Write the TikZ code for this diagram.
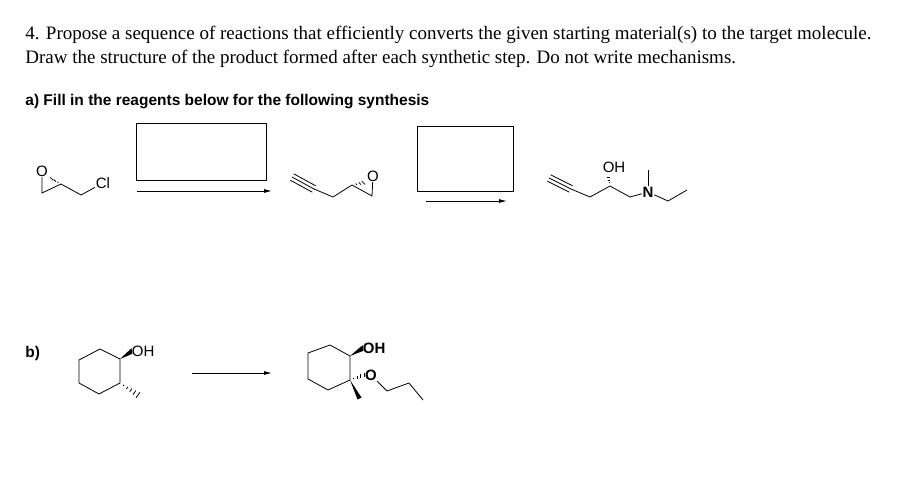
\documentclass[tikz,border=0pt]{standalone}
\usepackage{fontspec}
\setmainfont{Liberation Serif}
\setsansfont{Liberation Sans}
\usetikzlibrary{arrows.meta,calc}
\begin{document}
\begin{tikzpicture}[x=1pt,y=-1pt,line width=0.8pt,
  bond/.style={line width=0.8pt},
  rxn/.style={line width=0.9pt,-{Latex[length=8pt,width=4pt]}},
  ansbox/.style={draw,line width=0.9pt},
  atom/.style={font=\sffamily\fontsize{15}{15}\selectfont,inner sep=0.5pt},
  batom/.style={font=\sffamily\bfseries\fontsize{15}{15}\selectfont,inner sep=0.5pt},
  hdr/.style={anchor=west,font=\fontsize{19}{22}\selectfont,inner sep=0},
  sub/.style={anchor=west,font=\sffamily\bfseries\fontsize{15.5}{17}\selectfont,inner sep=0}]
\useasboundingbox (0,0) rectangle (906,498);
\node[hdr] (h1) at (25,35) {4. Propose a sequence of reactions that efficiently converts the given starting material(s) to the target molecule.};
\node[hdr] (h2) at (25,59) {Draw the structure of the product formed after each synthetic step. Do not write mechanisms.};
\node[sub] (sa) at (25,102) {a) Fill in the reagents below for the following synthesis};
\node[sub] (sb) at (25,353) {b)};
% epichlorohydrin
\node[atom] (o1) at (42,171) {O};
\coordinate (e1) at (42,193); \coordinate (e2) at (61,184); \coordinate (e3) at (81,195);
\node[atom] (cl) at (103,183) {Cl};
\draw[bond] (o1) -- (e1) -- (e2) -- (e3) -- (cl);
\foreach \t in {0.25,0.5,0.75}{\draw[bond] ($(e2)!\t!(o1.south east)$) ++(-2*\t,-2*\t) -- ++(4*\t,4*\t);}
% box 1 and arrow
\node[ansbox,minimum width=130,minimum height=57] (b1) at (201,151.5) {};
\coordinate (a1s) at (137,191); \coordinate (a1e) at (272,191);
\draw[rxn] (a1s) -- (a1e);
% alkyne epoxide
\coordinate (t1) at (292,177); \coordinate (t2) at (314,189); \coordinate (t3) at (333,197); \coordinate (t4) at (352,185);
\node[atom] (o2) at (373,176) {O}; \coordinate (t5) at (372,196);
\draw[bond] (t1) -- (t2) ($(t1)+(1.7,-3.2)$) -- ($(t2)+(1.7,-3.2)$) ($(t1)+(-1.7,3.2)$) -- ($(t2)+(-1.7,3.2)$);
\draw[bond] (t2) -- (t3) -- (t4) -- (t5) -- (o2);
\foreach \t in {0.3,0.55,0.8}{\draw[bond] ($(t4)!\t!(o2.south west)$) ++(-2*\t,-2*\t) -- ++(4*\t,4*\t);}
% box 2 and arrow
\node[ansbox,minimum width=96,minimum height=65] (b2) at (465,158.5) {};
\coordinate (a2s) at (426,201); \coordinate (a2e) at (507,201);
\draw[rxn] (a2s) -- (a2e);
% product a
\coordinate (p1) at (549,178); \coordinate (p2) at (571,189); \coordinate (p3) at (590,197); \coordinate (p4) at (610,186); \coordinate (p5) at (630,197);
\node[batom] (n1) at (648,192) {N}; \coordinate (pm) at (648,170); \coordinate (pe1) at (668,201); \coordinate (pe2) at (687,190);
\node[atom] (oh1) at (614,167) {OH};
\draw[bond] (p1) -- (p2) ($(p1)+(1.7,-3.2)$) -- ($(p2)+(1.7,-3.2)$) ($(p1)+(-1.7,3.2)$) -- ($(p2)+(-1.7,3.2)$);
\draw[bond] (p2) -- (p3) -- (p4) -- (p5) -- (n1) -- (pe1) -- (pe2); \draw[bond] (n1) -- (pm);
\foreach \t in {0.3,0.55,0.8}{\draw[bond] ($(p4)!\t!(608,175)$) ++(-2*\t,0) -- ++(4*\t,0);}
% b) starting material
\coordinate (r1) at (79,360); \coordinate (r2) at (100,349); \coordinate (r3) at (120,359); \coordinate (r4) at (120,383); \coordinate (r5) at (99,394); \coordinate (r6) at (79,383);
\draw[bond] (r1) -- (r2) -- (r3) -- (r4) -- (r5) -- (r6) -- cycle;
\node[atom,anchor=west] (oh2) at (131,351) {OH};
\fill (r3) -- ($(oh2.west)+(0.5,-2.8)$) -- ($(oh2.west)+(1.4,2.8)$) -- cycle;
\foreach \t in {0.2,0.4,0.6,0.8,1.0}{\draw[bond] ($(r4)!\t!(138,395)$) ++(1.8*\t,-2.6*\t) -- ++(-3.6*\t,5.2*\t);}
% arrow b
\coordinate (a3s) at (192,373); \coordinate (a3e) at (272,373);
\draw[rxn] (a3s) -- (a3e);
% b) product
\coordinate (q1) at (308,353); \coordinate (q2) at (330,345); \coordinate (q3) at (350,356); \coordinate (q4) at (350,380); \coordinate (q5) at (328,390); \coordinate (q6) at (308,379);
\draw[bond] (q1) -- (q2) -- (q3) -- (q4) -- (q5) -- (q6) -- cycle;
\node[batom,anchor=west] (oh3) at (362,348) {OH};
\fill (q3) -- ($(oh3.west)+(0.5,-2.8)$) -- ($(oh3.west)+(1.4,2.8)$) -- cycle;
\node[batom] (o3) at (371,375) {O};
\foreach \t in {0.25,0.5,0.75,1.0}{\draw[bond] ($(q4)!\t!(o3.west)$) ++(0,-2.4*\t) -- ++(0,4.8*\t);}
\fill (q4) -- (357.5,399.5) -- (361.5,397.5) -- cycle;
\coordinate (s1) at (387,391); \coordinate (s2) at (409,383); \coordinate (s3) at (423,400);
\draw[bond] (o3) -- (s1) -- (s2) -- (s3);
\end{tikzpicture}
\end{document}
